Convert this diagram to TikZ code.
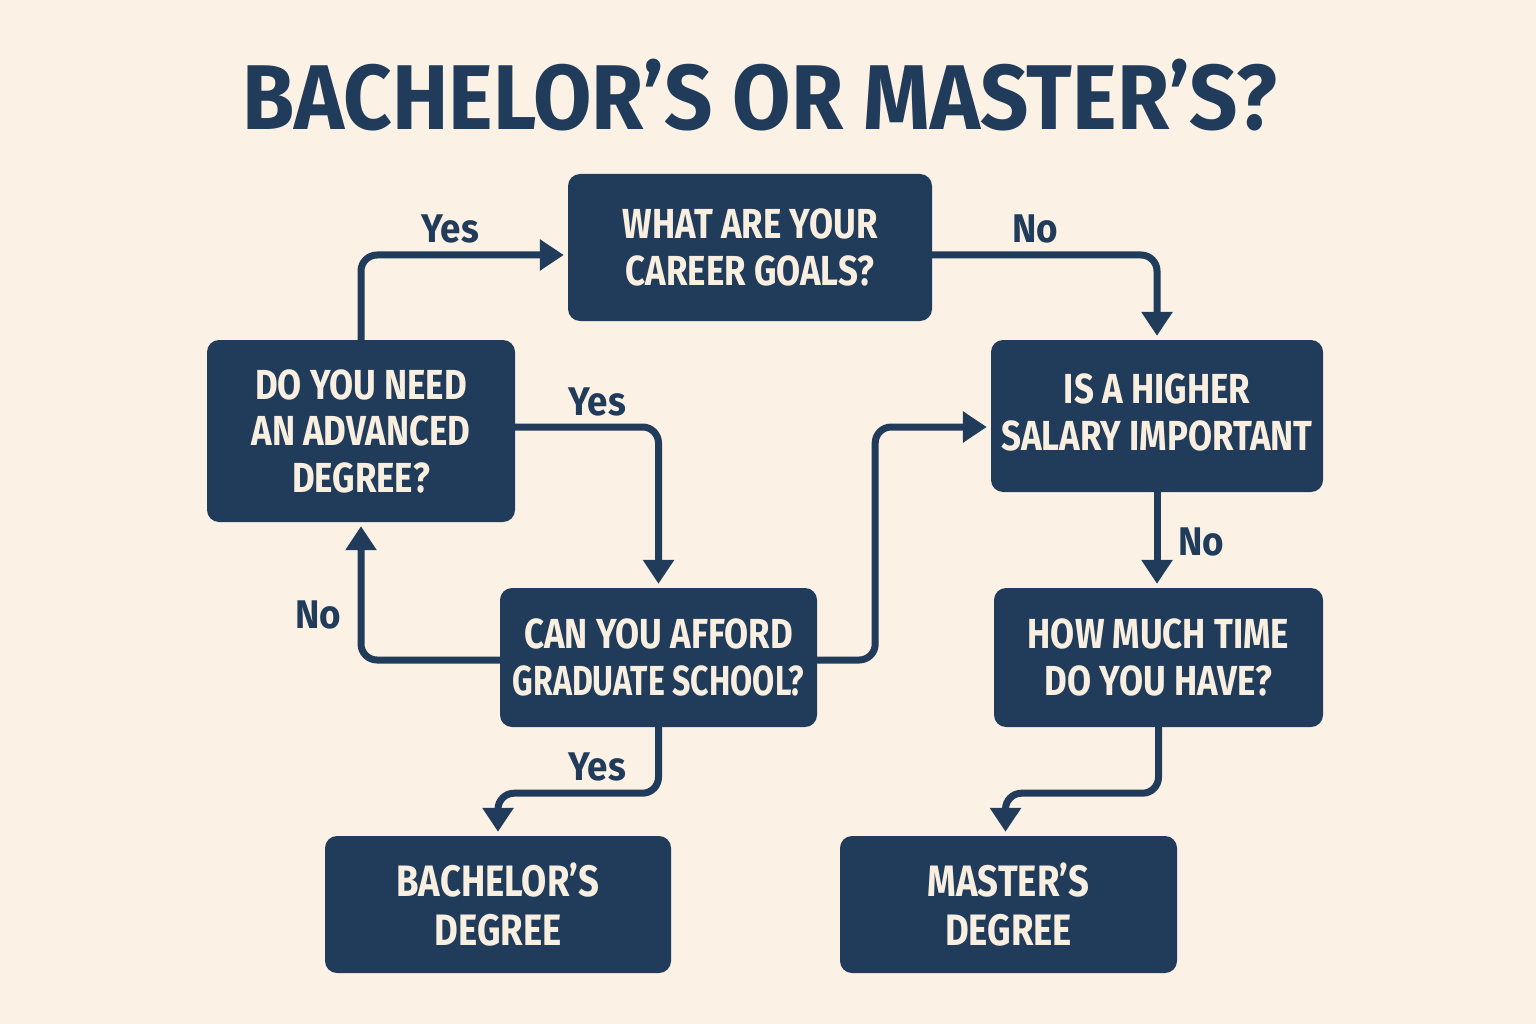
\documentclass[tikz,border=0pt]{standalone}
\usepackage{fontspec}
\setmainfont{Fira Sans}[FakeStretch=0.83]
\newfontfamily\titlefont{Fira Sans}[FakeStretch=0.92]
\newfontfamily\lblfont{Fira Sans}[FakeStretch=0.92]
\usetikzlibrary{arrows.meta}
\definecolor{bgc}{HTML}{FBF1E5}
\definecolor{navy}{HTML}{213B5A}
\definecolor{cream}{HTML}{F8EFE0}
\tikzset{
  box/.style={fill=navy, rounded corners=12pt, text=cream, align=center,
    font=\bfseries\fontsize{42}{46.5}\selectfont, inner sep=0pt},
  conn/.style={draw=navy, line width=7pt, rounded corners=16pt,
    -{Triangle[length=24pt,width=30pt]}, shorten >=4pt},
  lbl/.style={text=navy, font=\lblfont\bfseries\fontsize{40}{44}\selectfont, inner sep=0pt}
}
\begin{document}
\begin{tikzpicture}[x=1pt,y=-1pt]
\fill[bgc] (0,0) rectangle (1536,1024);
\useasboundingbox (0,0) rectangle (1536,1024);
\node[text=navy, font=\titlefont\bfseries\fontsize{92}{96}\selectfont, inner sep=0pt] (title) at (760,95) {BACHELOR’S OR MASTER’S?};
\node[box, minimum width=364pt, minimum height=147pt] (career) at (750,247.5) {WHAT ARE YOUR\\CAREER GOALS?};
\node[box, minimum width=308pt, minimum height=182pt] (adv) at (361,431) {DO YOU NEED\\AN ADVANCED\\DEGREE?};
\node[box, minimum width=317pt, minimum height=139pt] (afford) at (658.5,657.5) {CAN YOU AFFORD\\\scalebox{0.92}[1]{GRADUATE SCHOOL?}};
\node[box, minimum width=332pt, minimum height=152pt] (salary) at (1157,416) {IS A HIGHER\\SALARY IMPORTANT\\[-38.5pt]\mbox{}};
\node[box, minimum width=329pt, minimum height=139pt] (time) at (1158.5,657.5) {HOW MUCH TIME\\DO YOU HAVE?};
\node[box, minimum width=346pt, minimum height=137pt, font=\bfseries\fontsize{44}{49}\selectfont] (bach) at (498,904.5) {BACHELOR’S\\DEGREE};
\node[box, minimum width=337pt, minimum height=137pt, font=\bfseries\fontsize{44}{49}\selectfont] (mast) at (1008.5,904.5) {MASTER’S\\DEGREE};
% connectors
\draw[conn] (adv.north) |- ([yshift=-7.5pt]career.west);
\draw[conn] ([yshift=-7.5pt]career.east) -| (salary.north);
\draw[conn] ([yshift=4pt]adv.east) -| (afford.north);
\draw[conn] ([yshift=-2.5pt]afford.west) -| (adv.south);
\draw[conn] ([yshift=-2.5pt]afford.east) -- ++(58,0) |- ([yshift=-11pt]salary.west);
\draw[conn] (salary.south) -- ([xshift=-1.5pt]time.north);
\draw[conn] (afford.south) -- ++(0,66) -| (bach.north);
\draw[conn] (time.south) -- ++(0,66) -| ([xshift=-3pt]mast.north);
% labels
\node[lbl] (l1) at (450,229) {Yes};
\node[lbl] (l2) at (1035,229) {No};
\node[lbl] (l3) at (597,402) {Yes};
\node[lbl] (l4) at (318,615) {No};
\node[lbl] (l5) at (1201,542) {No};
\node[lbl] (l6) at (597,767) {Yes};
\end{tikzpicture}
\end{document}
